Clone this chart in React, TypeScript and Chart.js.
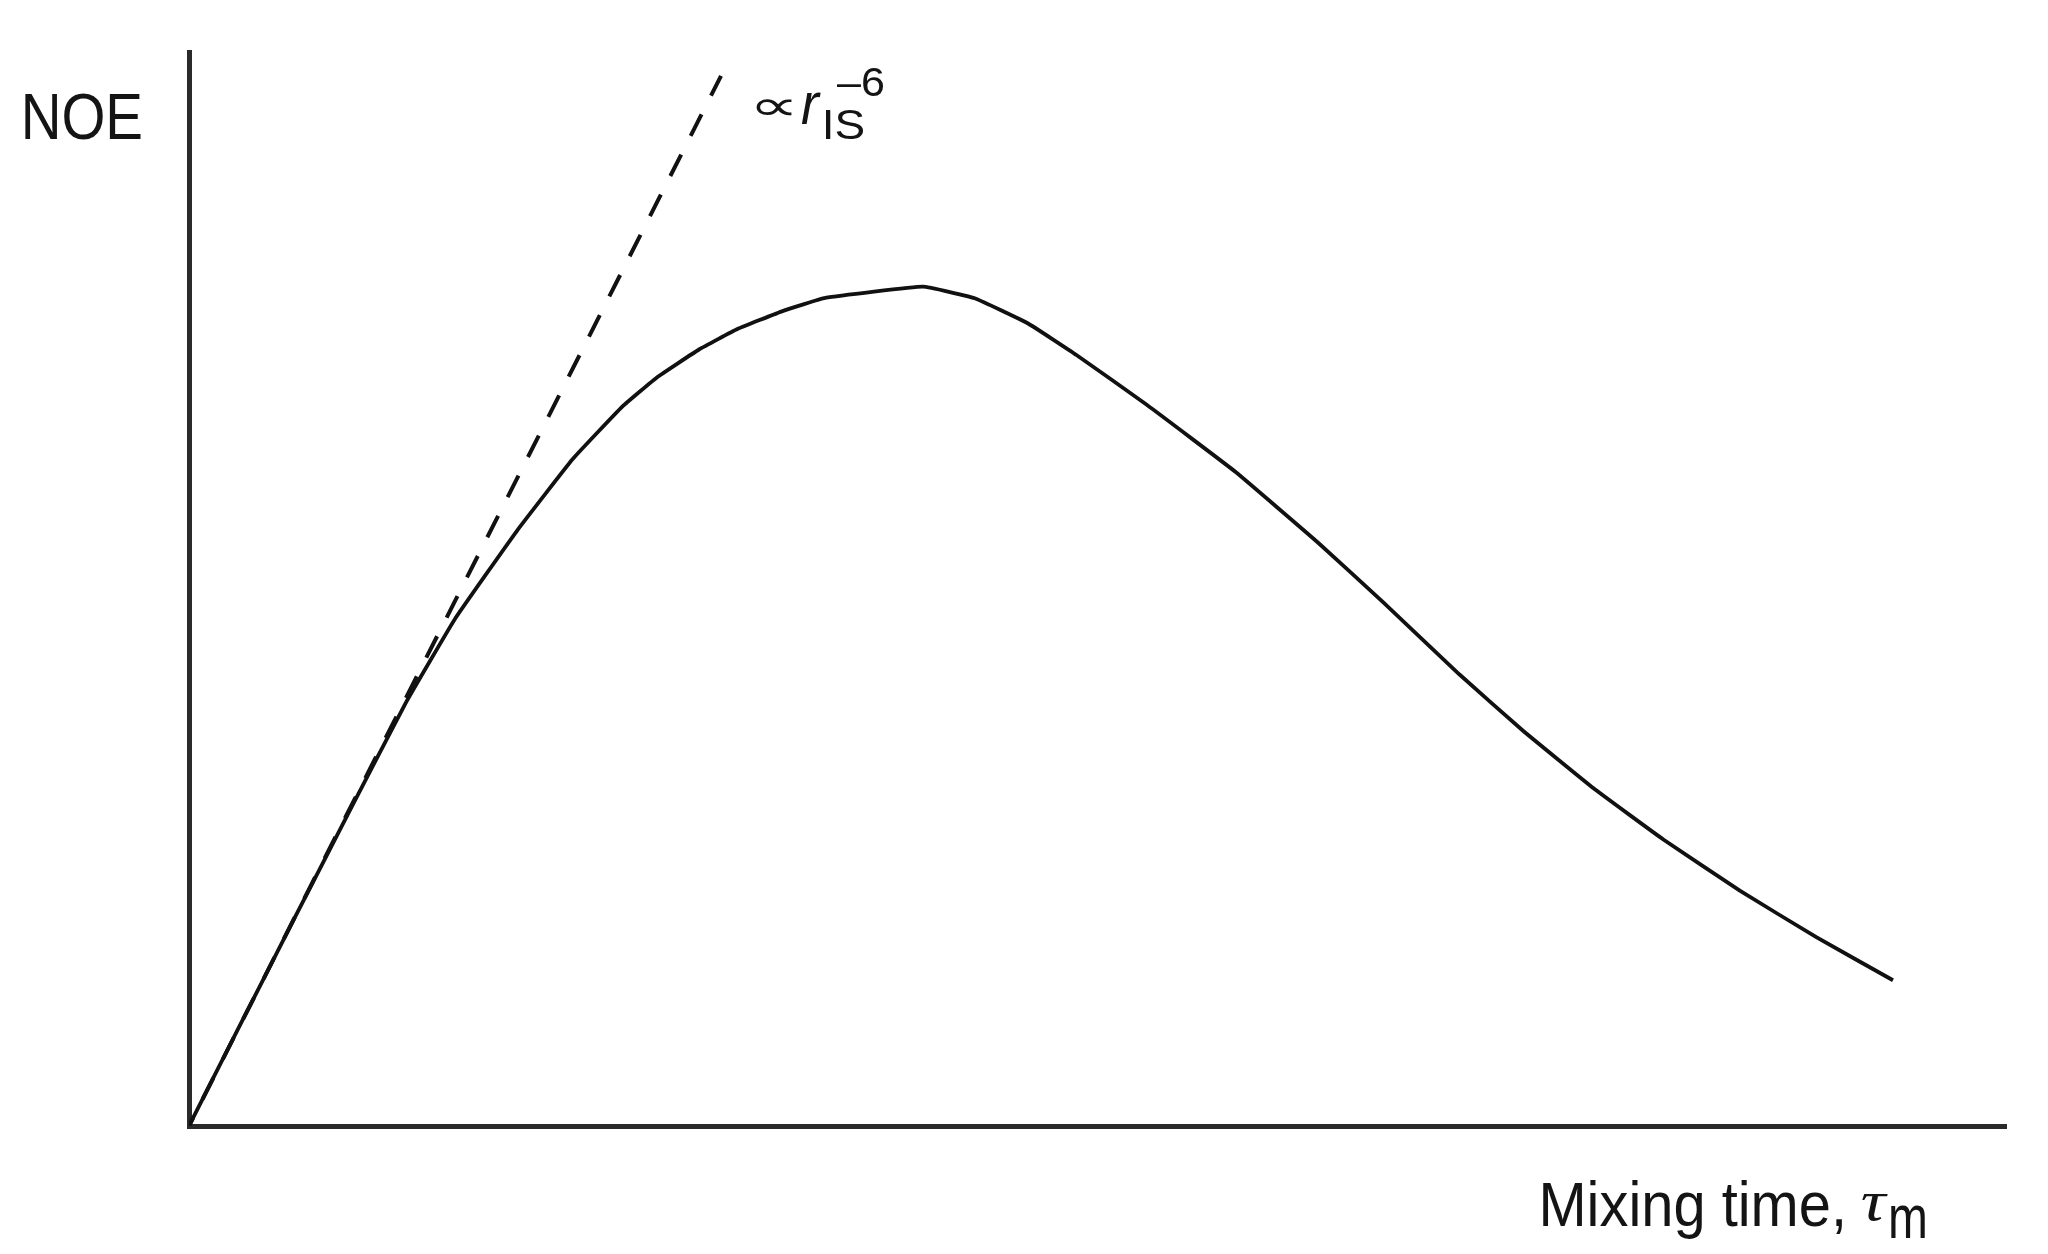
import React, { useEffect, useRef } from "react";
import { Chart, registerables } from "chart.js";

Chart.register(...registerables);

// Mixing time (arbitrary units) and NOE intensity (arbitrary units)
const mixingTime = [
  0, 2.66, 5.82, 8.98, 11.93, 14.67, 18.04, 21.12, 23.86, 25.75, 28.07, 30.18,
  32.7, 35.02, 40.39, 43.24, 46.18, 48.84, 52.71, 57.62, 62.19, 65.7, 69.91,
  73.42, 77.28, 81.14, 85.35, 89.56, 93.78,
];
const noeBuildUp = [
  0, 8.9, 19.4, 29.8, 39.4, 47.3, 55.4, 62.1, 67.0, 69.7, 72.3, 74.2,
  75.9, 77.1, 78.15, 77.07, 74.72, 71.79, 67.15, 60.87, 54.24, 48.8, 42.06,
  36.8, 31.47, 26.68, 21.92, 17.58, 13.57,
];
// initial-rate approximation (dashed)
const initialRateTime = [0, 29.28];
const initialRateNoe = [0, 97.77];

const xRange = [0, 100];
const yRange = [0, 100];

const yAxisLabel = "NOE";
const xAxisLabel = "Mixing time,";
const xAxisSymbol = "\u03C4";
const xAxisSub = "m";
const rateProp = "\u221D";
const rateVar = "r";
const rateSub = "IS";
const rateSup = "\u20136";

const TEXT = "#141414";

// draw text so that its ink starts at inkLeft and spans inkWidth horizontally
function drawInk(
  ctx: CanvasRenderingContext2D,
  text: string,
  font: string,
  inkLeft: number,
  baseline: number,
  inkWidth: number
) {
  ctx.save();
  ctx.font = font;
  ctx.fillStyle = TEXT;
  ctx.textBaseline = "alphabetic";
  ctx.textAlign = "left";
  const m = ctx.measureText(text);
  const w = m.actualBoundingBoxLeft + m.actualBoundingBoxRight;
  const sx = w > 0 ? inkWidth / w : 1;
  ctx.translate(inkLeft, baseline);
  ctx.scale(sx, 1);
  ctx.fillText(text, m.actualBoundingBoxLeft, 0);
  ctx.restore();
}

// draw a glyph fitted into a box (used for the proportionality sign)
function drawBox(
  ctx: CanvasRenderingContext2D,
  text: string,
  font: string,
  left: number,
  top: number,
  right: number,
  bottom: number
) {
  ctx.save();
  ctx.font = font;
  ctx.fillStyle = TEXT;
  ctx.textBaseline = "alphabetic";
  ctx.textAlign = "left";
  const m = ctx.measureText(text);
  const w = m.actualBoundingBoxLeft + m.actualBoundingBoxRight;
  const h = m.actualBoundingBoxAscent + m.actualBoundingBoxDescent;
  const sx = w > 0 ? (right - left) / w : 1;
  const sy = h > 0 ? (bottom - top) / h : 1;
  ctx.translate(left, top);
  ctx.scale(sx, sy);
  ctx.fillText(text, m.actualBoundingBoxLeft, m.actualBoundingBoxAscent);
  ctx.restore();
}

export default function App() {
  const ref = useRef<HTMLCanvasElement>(null);

  useEffect(() => {
    const canvas = ref.current;
    if (!canvas) return;

    const labelsPlugin = {
      id: "figureLabels",
      afterDraw(chart: any) {
        const ctx: CanvasRenderingContext2D = chart.ctx;
        const sans = '"Liberation Sans", Arial, sans-serif';
        // y label
        drawInk(ctx, yAxisLabel, `65px ${sans}`, 25, 139, 116);
        // x label
        drawInk(ctx, xAxisLabel, `63px ${sans}`, 1543, 1226, 299);
        drawInk(ctx, xAxisSymbol, 'italic 56px "Liberation Serif", serif', 1862, 1220, 26);
        drawInk(ctx, xAxisSub, `62px ${sans}`, 1891, 1238, 34);
        // proportionality label near the dashed line
        drawBox(ctx, rateProp, '60px "DejaVu Sans", sans-serif', 756, 99, 792, 116);
        drawInk(ctx, rateVar, `italic 59px ${sans}`, 801, 124, 20);
        drawInk(ctx, rateSub, `42px ${sans}`, 825, 139, 39);
        drawInk(ctx, rateSup, `41px ${sans}`, 837, 96, 46);
      },
    };

    const axis = (min: number, max: number) => ({
      type: "linear" as const,
      min,
      max,
      ticks: { display: false },
      grid: { display: false, drawTicks: false },
      border: { display: true, color: "#2a2a2a", width: 5 },
    });

    const chart = new Chart(canvas, {
      type: "line",
      data: {
        datasets: [
          {
            label: "NOE build-up",
            data: mixingTime.map((t, i) => ({ x: t, y: noeBuildUp[i] })),
            borderColor: "#111111",
            borderWidth: 3.8,
            pointRadius: 0,
            tension: 0.1,
            fill: false,
          },
          {
            label: "Initial rate",
            data: initialRateTime.map((t, i) => ({ x: t, y: initialRateNoe[i] })),
            borderColor: "#111111",
            borderWidth: 4,
            borderDash: [24, 21],
            borderDashOffset: 15,
            pointRadius: 0,
            tension: 0,
            fill: false,
          },
        ],
      },
      options: {
        responsive: false,
        animation: false,
        devicePixelRatio: 1,
        layout: { padding: { left: 189, top: 52, right: 42, bottom: 128 } },
        plugins: {
          legend: { display: false },
          tooltip: { enabled: false },
          title: { display: false },
        },
        scales: {
          x: axis(xRange[0], xRange[1]),
          y: axis(yRange[0], yRange[1]),
        },
      } as any,
      plugins: [labelsPlugin],
    });

    return () => chart.destroy();
  }, []);

  return (
    <div
      style={{
        position: "fixed",
        left: 0,
        top: 0,
        width: 2048,
        height: 1254,
        background: "#ffffff",
      }}
    >
      <canvas ref={ref} width={2048} height={1254} style={{ display: "block" }} />
    </div>
  );
}
